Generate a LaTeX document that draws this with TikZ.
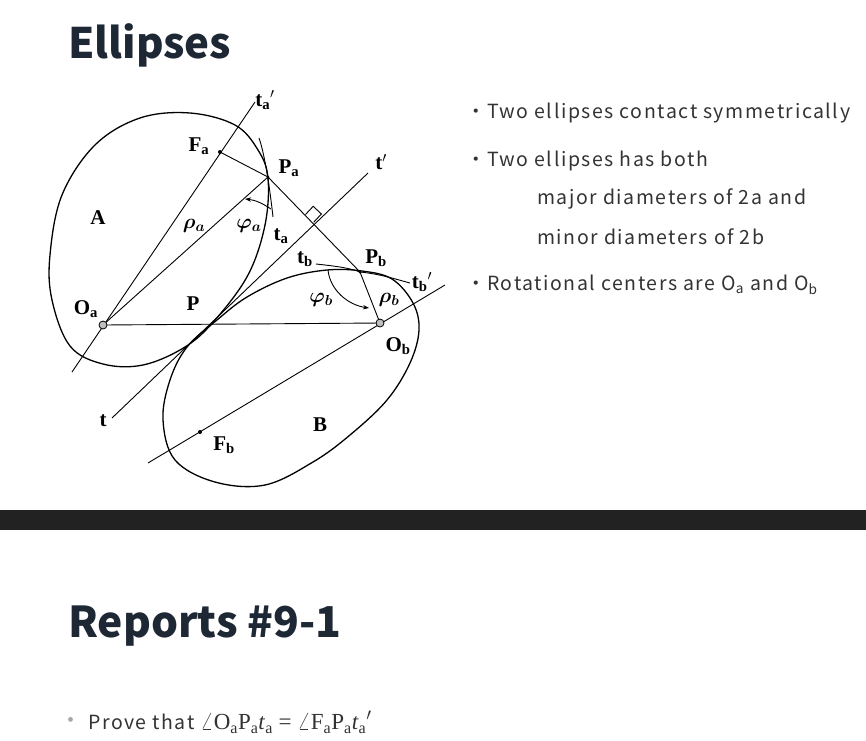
\documentclass[tikz,border=0pt]{standalone}
\usepackage{amsmath}
\usepackage{fontspec}
\setmainfont{Liberation Serif}
\newfontfamily\jp{Noto Sans CJK JP}
\newfontfamily\jpw{Noto Sans CJK JP}[LetterSpace=8]
\usetikzlibrary{arrows.meta}
\definecolor{titlec}{HTML}{1E2835}
\definecolor{txt}{HTML}{333333}
\begin{document}
\begin{tikzpicture}[x=1pt,y=-1pt,
  geo/.style={line width=1.3pt,black},
  thin/.style={line width=0.9pt,black},
  lbl/.style={font=\fontsize{21}{21}\selectfont\bfseries,inner sep=0pt},
  side/.style={font=\jpw\fontsize{19.5}{19.5}\selectfont,text=txt,anchor=west,inner sep=0pt},
  dot/.style={circle,fill=black,inner sep=0pt,minimum size=4pt},
  odot/.style={circle,draw=black,fill=gray!50,line width=0.8pt,inner sep=0pt,minimum size=8pt}]
\useasboundingbox (0,0) rectangle (866,740);
\fill[white] (0,0) rectangle (866,740);
% title
\node[anchor=west,inner sep=0pt,text=titlec,font=\jp\bfseries\fontsize{42}{42}\selectfont] (title) at (68,45) {Ellipses};
% points
\coordinate (Oa) at (103,325);
\coordinate (Ob) at (380,323);
\coordinate (Fa) at (220,152);
\coordinate (Fb) at (200,432);
\coordinate (Pa) at (268,177);
\coordinate (Pb) at (360,272);
% ellipses (egg shapes)
\draw[geo] plot[smooth cycle,tension=0.6] coordinates {(190,113) (235,125) (258,150) (268,178) (265,225) (248,275) (215,320) (185,347) (143,365) (103,364) (70,346) (52,300) (50,255) (62,195) (95,145) (140,118)};
\draw[geo] plot[smooth cycle,tension=0.6] coordinates {(187,347) (217,320) (247,297) (287,278) (327,270) (362,271) (392,279) (413,303) (419,330) (410,363) (387,400) (350,435) (313,462) (265,485) (215,482) (175,460) (163,420) (170,380)};
% lines
\coordinate (LaS) at (72,372); \coordinate (LaE) at (255,102);
\coordinate (LbS) at (148,463); \coordinate (LbE) at (445,285);
\coordinate (tS) at (112,418); \coordinate (tE) at (368,173);
\draw[thin] (LaS) -- (LaE);
\draw[thin] (LbS) -- (LbE);
\draw[thin] (tS) -- (tE);
\draw[thin] (Oa) -- (Ob);
\draw[thin] (Oa) -- (Pa);
\draw[thin] (Fa) -- (Pa);
\draw[thin] (Pa) -- (Pb);
\draw[thin] (Pb) -- (Ob);
\coordinate (taT) at (259,138); \coordinate (taB) at (273,217);
\draw[thin] (taT) .. controls (265,155) and (270,190) .. (taB);
\coordinate (tbL) at (316,264); \coordinate (tbR) at (410,283);
\draw[thin] (tbL) .. controls (335,266) and (350,268) .. (Pb) .. controls (380,274) and (395,279) .. (tbR);
% right angle mark
\draw[thin] (305.5,214.5) -- (313.2,206.3) -- (321.4,214) -- (313.7,222.2);
% angle arcs
\draw[thin,-{Stealth[length=6pt]}] (271,209) .. controls (262,203) and (255,200) .. (245,199);
\draw[thin,-{Stealth[length=6pt]}] (328,270) .. controls (330,290) and (348,305) .. (369,308);
% point markers
\node[dot] (fa) at (Fa) {};
\node[dot] (fb) at (Fb) {};
\node[dot,minimum size=3pt] (pa) at (Pa) {};
\node[dot,minimum size=3pt] (pb) at (Pb) {};
\node[odot] (oa) at (Oa) {};
\node[odot] (ob) at (Ob) {};
% labels
\node[lbl] (lA) at (98,218) {A};
\node[lbl] (lB) at (320,425) {B};
\node[lbl] (lFa) at (199,146) {F\textsubscript{a}};
\node[lbl] (lFb) at (224,445) {F\textsubscript{b}};
\node[lbl] (lPa) at (289,168) {P\textsubscript{a}};
\node[lbl] (lPb) at (376,258) {P\textsubscript{b}};
\node[lbl] (lOa) at (86,309) {O\textsubscript{a}};
\node[lbl] (lOb) at (398,346) {O\textsubscript{b}};
\node[lbl] (lP) at (193,304) {P};
\node[lbl] (lt) at (103,421) {t};
\node[lbl] (ltp) at (381,162) {t$'$};
\node[lbl] (lta) at (281,236) {t\textsubscript{a}};
\node[lbl] (ltap) at (265,100) {t\textsubscript{a}$'$};
\node[lbl] (ltb) at (305,259) {t\textsubscript{b}};
\node[lbl] (ltbp) at (422,282) {t\textsubscript{b}$'$};
\node[lbl] (lra) at (194,226) {$\boldsymbol{\rho_a}$};
\node[lbl] (lfa) at (249,226) {$\boldsymbol{\varphi_a}$};
\node[lbl] (lfb) at (321,300) {$\boldsymbol{\varphi_b}$};
\node[lbl] (lrb) at (389,300) {$\boldsymbol{\rho_b}$};
% side text
\node[side] (s1) at (466,113) {・Two ellipses contact symmetrically};
\node[side] (s2) at (466,161) {・Two ellipses has both};
\node[side] (s3) at (537,199) {major diameters of 2a and};
\node[side] (s4) at (537,237) {minor diameters of 2b};
\node[side] (s5) at (466,285) {・Rotational centers are O\textsubscript{a} and O\textsubscript{b}};
% band
\fill[fill={rgb,255:red,34;green,34;blue,34}] (0,510) rectangle (866,530);
\node[anchor=west,inner sep=0pt,text=titlec,font=\jp\bfseries\fontsize{42.5}{42.5}\selectfont] (title2) at (68,626) {Reports \#9-1};
\node[anchor=west,inner sep=0pt,text=gray!70,font=\fontsize{20}{20}\selectfont] (bul) at (67,722) {•};
\node[anchor=west,inner sep=0pt,text=txt,font=\fontsize{23}{23}\selectfont] (prove) at (88,722) {{\jpw\fontsize{19.5}{19.5}\selectfont Prove that} $\angle$O\textsubscript{a}P\textsubscript{a}\textit{t}\textsubscript{a} = $\angle$F\textsubscript{a}P\textsubscript{a}\textit{t}\textsubscript{a}$'$};
\end{tikzpicture}
\end{document}
